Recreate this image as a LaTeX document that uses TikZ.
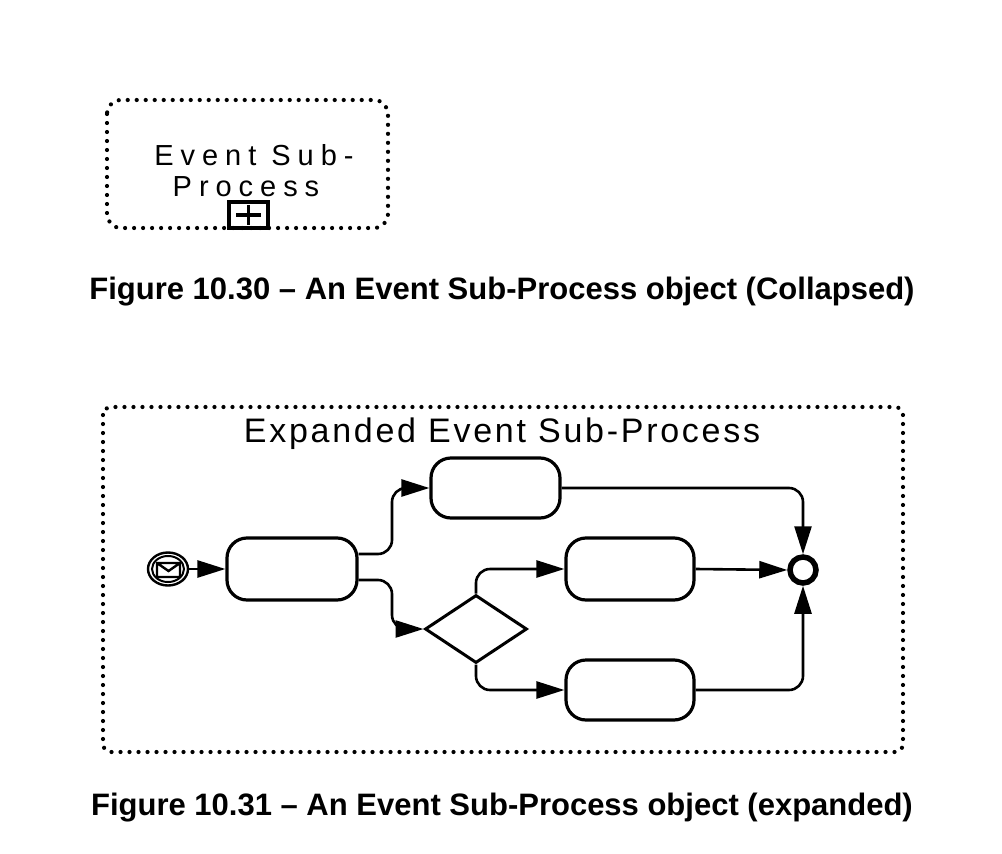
\documentclass[tikz,border=0pt]{standalone}
\usepackage{fontspec}
\setmainfont{Liberation Sans}
\newfontfamily\spaced[LetterSpace=24]{Liberation Sans}
\newfontfamily\spacedb[LetterSpace=8]{Liberation Sans}
\usetikzlibrary{shapes.geometric,arrows.meta}
\begin{document}
\begin{tikzpicture}[x=1pt,y=-1pt,
  task/.style={draw,line width=3.2pt,rounded corners=20pt},
  flow/.style={line width=2.6pt,-{Triangle[length=28pt,width=17pt]},rounded corners=14pt},
  dots/.style={line width=4.2pt,dash pattern=on 0pt off 9pt,line cap=round,rounded corners=14pt},
  figcap/.style={font=\bfseries\fontsize{31}{34}\selectfont}]
\useasboundingbox (0,0) rectangle (1002,854);
% collapsed
\draw[dots] (107,100) rectangle (388,228);
\node[font=\spaced\fontsize{29}{32}\selectfont] (t1) at (254,155) {Event Sub-};
\node[font=\spaced\fontsize{29}{32}\selectfont] (t2) at (246,187) {Process};
\draw[line width=3.2pt] (229,202) rectangle (268,228);
\draw[line width=3.2pt] (236,215) -- (261,215) (248.5,205) -- (248.5,225);
\node[figcap] (c1) at (502,292) {Figure 10.30 – An Event Sub-Process object (Collapsed)};
% expanded
\draw[dots,rounded corners=8pt] (103,407) rectangle (903,752);
\node[font=\spacedb\fontsize{34}{36}\selectfont] (title) at (502,434) {Expanded Event Sub-Process};
\node[draw,ellipse,line width=2.4pt,minimum width=40pt,minimum height=33pt,inner sep=0] (s) at (168,569) {};
\draw[line width=2pt] (168,569) ellipse (16 and 13);
\draw[line width=2.4pt] (157,563) rectangle (180,577) (157,563) -- (168.5,571) -- (180,563);
\node[task,minimum width=130pt,minimum height=62pt] (a) at (292,569) {};
\node[task,minimum width=129pt,minimum height=60pt] (b) at (495.5,488) {};
\node[task,minimum width=128pt,minimum height=62pt] (c) at (630,569) {};
\node[task,minimum width=128pt,minimum height=60pt] (d) at (630,690) {};
\node[draw,diamond,line width=3pt,minimum width=102pt,minimum height=68pt,inner sep=0] (g) at (476,629) {};
\node[draw,circle,line width=5.5pt,minimum size=26pt,inner sep=0] (e) at (803,570) {};
\draw[flow] ([yshift=15pt]a.east) -- (392,554) -- (392,488) -- (b.west);
\draw[flow] ([yshift=-11pt]a.east) -- (392,580) -- (392,629) -- (g.west);
\draw[flow] (s) -- (a);
\draw[flow] (g.north) -- (476,569) -- (c.west);
\draw[flow] (g.south) -- (476,690) -- (d.west);
\draw[flow] (c.east) -- (e.west);
\draw[flow] (b.east) -- (803,488) -- (e.north);
\draw[flow] (d.east) -- (803,690) -- (e.south);
\node[figcap] (c2) at (502,808) {Figure 10.31 – An Event Sub-Process object (expanded)};
\end{tikzpicture}
\end{document}
